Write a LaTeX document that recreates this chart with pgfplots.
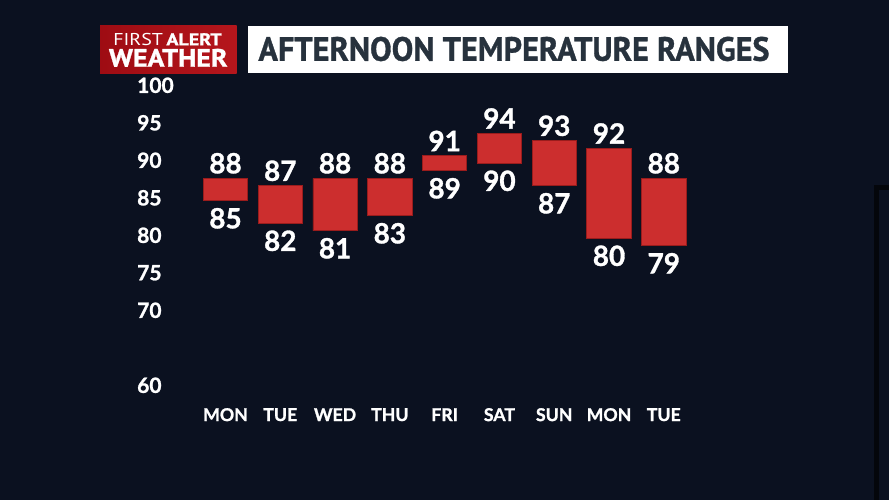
\documentclass[border=0pt]{standalone}
\usepackage{fontspec}
\setmainfont{Lato}[BoldFeatures={FakeBold=1.2}]
\newfontfamily\titlefont{PT Sans}[BoldFeatures={FakeBold=1}]
\usepackage{pgfplots}
\pgfplotsset{compat=1.18}
\usepackage{pgfplotstable}
\definecolor{bg}{HTML}{0B1120}
\definecolor{barred}{HTML}{CC2E2E}
\definecolor{baredge}{HTML}{9A1C1C}
\definecolor{logored}{HTML}{9E0C13}
\definecolor{logored2}{HTML}{B5161C}
\definecolor{titletext}{HTML}{27323D}
\definecolor{framec}{HTML}{04060B}

\pgfplotstableread{
x day low high
0 MON 85 88
1 TUE 82 87
2 WED 81 88
3 THU 83 88
4 FRI 89 91
5 SAT 90 94
6 SUN 87 93
7 MON 80 92
8 TUE 79 88
}\temps

\pgfplotsset{geom/.style={
  at={(198.1pt,111.7pt)}, anchor=south west,
  scale only axis, width=493.1pt, height=300pt,
  xmin=-0.5, xmax=8.5, ymin=60, ymax=100, clip=false,
  /pgf/number format/assume math mode=true,
  /pgf/number format/1000 sep={},
}}

\begin{document}
\begin{tikzpicture}[x=1pt,y=1pt]
\useasboundingbox (0,0) rectangle (889,500);
\fill[bg] (0,0) rectangle (889,500);
% partial frame at right edge
\draw[line width=5pt, framec] (892,312.5) -- (876.5,312.5) -- (876.5,-3);
% logo
\shade[left color=logored, right color=logored2] (100,426.7) rectangle (236.7,474);
\node[inner sep=0pt, text=white] at (167.5,460.6) {\resizebox{108.4pt}{12.2pt}{\titlefont FIRST\,\textbf{ALERT}}};
\node[inner sep=0pt, text=white] at (168.3,442.2) {\resizebox{118.7pt}{17.8pt}{\titlefont\bfseries WEATHER}};
% title box
\fill[white] (248,426.7) rectangle (788,474);
\node[inner sep=0pt, text=titletext] at (514,451) {\resizebox{511pt}{24pt}{\titlefont\bfseries AFTERNOON TEMPERATURE RANGES}};

\begin{axis}[geom,
  ybar stacked, bar width=44.3pt, bar shift=0pt,
  axis line style={draw=none}, major tick length=0pt,
  xtick={0,...,8},
  xticklabels={MON,TUE,WED,THU,FRI,SAT,SUN,MON,TUE},
  ytick={60,70,75,80,85,90,95,100},
  yticklabel style={font=\bfseries\fontsize{21}{21}\selectfont, text=white, anchor=west, inner sep=0pt, xshift=-61.1pt, yshift=3pt},
  xticklabel style={font=\bfseries\fontsize{17.7}{18}\selectfont, text=white, anchor=center, inner sep=0pt, yshift=-26.4pt},
]
\addplot[draw=none, fill=none] table[x=x, y=low]{\temps};
\addplot[fill=barred, draw=baredge, line width=0.8pt]
  table[x=x, y expr=\thisrow{high}-\thisrow{low}]{\temps};
\end{axis}

\begin{axis}[geom, hide axis,
  every node near coord/.append style={font=\bfseries\fontsize{27.9}{28}\selectfont, text=white, inner sep=0pt},
]
\addplot[only marks, mark=none, point meta=explicit, nodes near coords,
  nodes near coords style={anchor=north, yshift=-7pt}]
  table[x=x, y=low, meta=low]{\temps};
\addplot[only marks, mark=none, point meta=explicit, nodes near coords,
  nodes near coords style={anchor=south, yshift=4.5pt}]
  table[x=x, y=high, meta=high]{\temps};
\end{axis}
\end{tikzpicture}
\end{document}
